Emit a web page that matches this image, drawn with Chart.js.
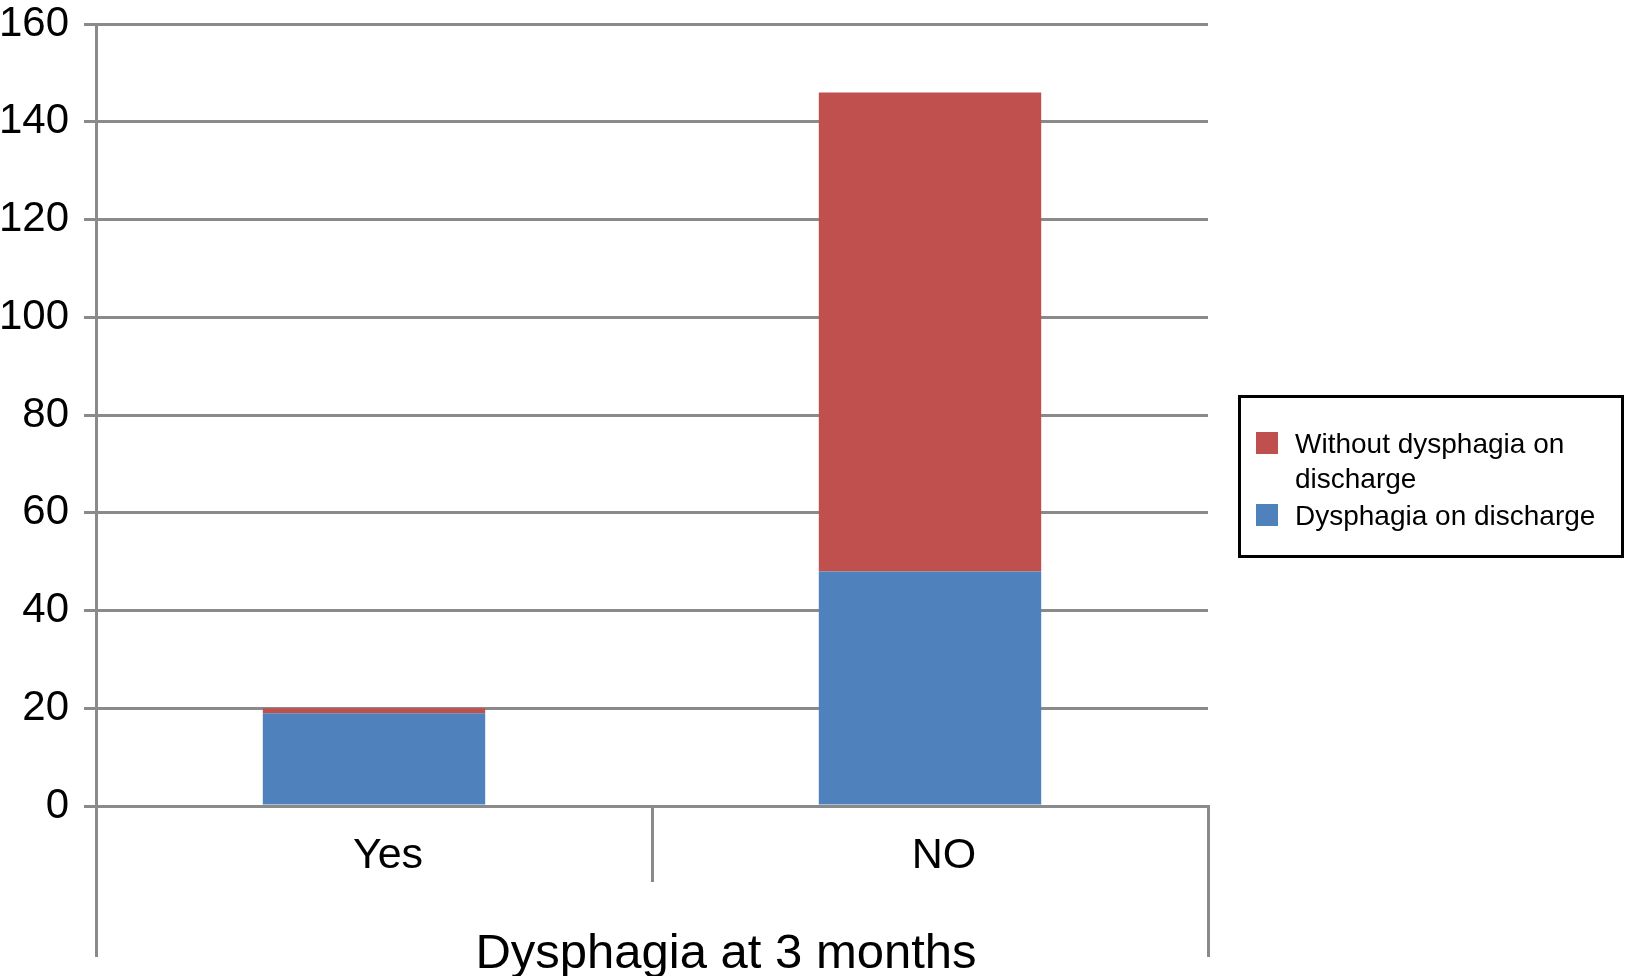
<!DOCTYPE html>
<html>
<head>
<meta charset="utf-8">
<title>Dysphagia at 3 months</title>
<script src="https://cdn.jsdelivr.net/npm/chart.js@4"></script>
<style>
  html, body { margin: 0; padding: 0; background: #fff; }
  #wrap { position: relative; width: 1625px; height: 976px; }
  #legend {
    position: absolute; left: 1238px; top: 395px; width: 386px; height: 163px;
    box-sizing: border-box; border: 3px solid #000; padding-top: 28px; padding-left: 15px;
    font-family: "Liberation Sans", Arial, sans-serif; font-size: 28px; line-height: 35px; color: #000;
  }
  #legend .item { display: flex; align-items: flex-start; margin-bottom: 2px; }
  #legend .box { width: 22px; height: 22px; margin-top: 6px; margin-right: 17px; flex: none; }
  #legend .txt { width: 320px; }
</style>
</head>
<body>
<div id="wrap">
  <canvas id="chart"></canvas>
  <div id="legend"></div>
</div>
<script>
// data
const categories = ["Yes", "NO"];
const dysphagiaOnDischarge = [19, 48];
const withoutDysphagia = [1, 98];
const yTicks = [0, 20, 40, 60, 80, 100, 120, 140, 160];
const axisTitle = "Dysphagia at 3 months";

const gridColor = "#8a8a8a";
const font = '"Liberation Sans", Arial, sans-serif';

// same rounding Chart.js uses for crisp lines
function alignPx(px, w) {
  return Math.round(px - w / 2) + w / 2;
}

/* Excel-like category frame: long outer dividers + axis title */
const excelFrame = {
  id: "excelFrame",
  afterDraw(chart) {
    const { ctx, chartArea } = chart;
    const x = chart.scales.x;
    const y0 = chartArea.bottom;
    ctx.save();
    ctx.strokeStyle = gridColor;
    ctx.lineWidth = 3;
    [x.left, x.right].forEach((px) => {
      const ax = alignPx(px, 3);
      ctx.beginPath();
      ctx.moveTo(ax, y0);
      ctx.lineTo(ax, y0 + 151);
      ctx.stroke();
    });
    ctx.fillStyle = "#000";
    ctx.font = "49px " + font;
    ctx.textAlign = "center";
    ctx.textBaseline = "alphabetic";
    ctx.fillText(axisTitle, (x.left + x.right) / 2 + 74, y0 + 162);
    ctx.restore();
  },
};

const chart = new Chart(document.getElementById("chart"), {
  type: "bar",
  data: {
    labels: categories,
    datasets: [
      {
        label: "Dysphagia on discharge",
        data: dysphagiaOnDischarge,
        backgroundColor: "#4f81bd",
      },
      {
        label: "Without dysphagia on discharge",
        data: withoutDysphagia,
        backgroundColor: "#c0504d",
      },
    ],
  },
  options: {
    responsive: true,
    maintainAspectRatio: false,
    animation: false,
    layout: { padding: { top: 0, right: 417, left: 0, bottom: 0 } },
    datasets: { bar: { categoryPercentage: 0.4, barPercentage: 1 } },
    plugins: { legend: { display: false }, tooltip: { enabled: false } },
    scales: {
      x: {
        stacked: true,
        grid: { offset: true, drawOnChartArea: false, color: gridColor, lineWidth: 3, tickLength: 76 },
        border: { color: gridColor, width: 3 },
        ticks: { color: "#000", font: { family: font, size: 43 }, padding: -52, labelOffset: 14 },
        afterFit: (s) => { s.height = 170; },
      },
      y: {
        stacked: true,
        min: 0,
        max: 160,
        afterBuildTicks: (s) => { s.ticks = yTicks.map((v) => ({ value: v })); },
        grid: { color: gridColor, lineWidth: 3, tickLength: 12 },
        border: { color: gridColor, width: 3 },
        ticks: { color: "#000", font: { family: font, size: 42 }, padding: 15 },
        afterFit: (s) => {
          s.width = 96;
          s.paddingTop = 24;
          s.paddingBottom = 0;
        },
      },
    },
  },
  plugins: [excelFrame],
});

// legend (Excel lists the top segment first)
const legendEl = document.getElementById("legend");
chart.data.datasets.slice().reverse().forEach((ds) => {
  const item = document.createElement("div");
  item.className = "item";
  item.innerHTML =
    '<span class="box" style="background:' + ds.backgroundColor + '"></span>' +
    '<span class="txt">' + ds.label + "</span>";
  legendEl.appendChild(item);
});
</script>
</body>
</html>
